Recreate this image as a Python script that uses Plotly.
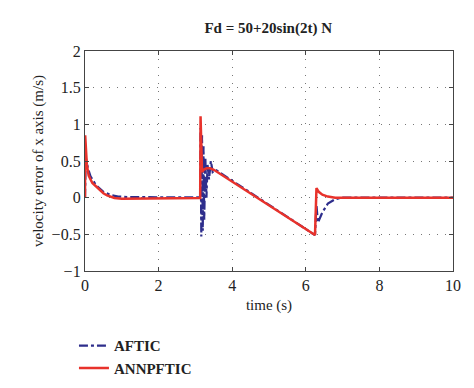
import plotly.graph_objects as go

# ANNPFTIC (red)
t_annp = [0, 0.005, 0.05, 0.1, 0.2, 0.3, 0.4, 0.5, 0.6, 0.7, 0.8, 1.0, 1.5, 2.0, 2.5, 3.13,
          3.14, 3.16, 3.18, 3.22, 3.3, 3.4, 3.5, 6.25, 6.29, 6.35, 6.45, 6.6, 6.8, 10]
v_annp = [0, 0.85, 0.45, 0.30, 0.20, 0.15, 0.10, 0.06, 0.03, 0.01, -0.005, -0.015, -0.015, -0.01, -0.005, -0.005,
          1.11, 0.45, 0.35, 0.38, 0.40, 0.40, 0.38, -0.51, 0.13, 0.08, 0.04, 0.015, 0.0, 0.0]

# AFTIC (blue dash-dot)
t_aftic = [0, 0.02, 0.08, 0.15, 0.3, 0.5, 0.7, 0.9, 1.2, 3.13,
           3.14, 3.16, 3.18, 3.20, 3.22, 3.24, 3.27, 3.30, 3.33, 3.37, 3.42, 3.47, 3.55,
           6.25, 6.29, 6.33, 6.45, 6.6, 6.8, 7.0, 10]
v_aftic = [0, 0.55, 0.40, 0.29, 0.17, 0.08, 0.035, 0.015, 0.008, 0.003,
           0.95, -0.53, 0.85, -0.45, 0.70, -0.30, 0.55, 0.0, 0.45, 0.25, 0.50, 0.35, 0.38,
           -0.51, -0.10, -0.34, -0.20, -0.08, -0.02, 0.0, 0.0]

x_ticks = [0, 2, 4, 6, 8, 10]
y_ticks = [-1, -0.5, 0, 0.5, 1, 1.5, 2]
y_tick_text = ["\u22121", "\u22120.5", "0", "0.5", "1", "1.5", "2"]

serif = "Liberation Serif, DejaVu Serif, serif"

fig = go.Figure()
fig.add_trace(go.Scatter(x=t_aftic, y=v_aftic, mode="lines", name="<b>AFTIC</b>",
                         line=dict(color="#2e2e8c", width=2.2, dash="dashdot")))
fig.add_trace(go.Scatter(x=t_annp, y=v_annp, mode="lines", name="<b>ANNPFTIC</b>",
                         line=dict(color="#e8322b", width=2.5)))

axis_common = dict(showline=True, linecolor="#444", linewidth=1.3, mirror="ticks",
                   ticks="inside", ticklen=4, tickcolor="#444", tickwidth=1.3,
                   showgrid=True, gridcolor="#777", griddash="1px,7px", gridwidth=1.2,
                   zeroline=False, tickfont=dict(family=serif, size=16, color="#222"))

fig.update_xaxes(range=[0, 10], tickvals=x_ticks, ticktext=[str(v) for v in x_ticks], **axis_common,
                 title=dict(text="time (s)", font=dict(family=serif, size=15, color="#222"), standoff=6))
fig.update_yaxes(range=[-1, 2], tickvals=y_ticks, ticktext=y_tick_text, **axis_common,
                 title=dict(text="velocity error of x axis (m/s)", font=dict(family=serif, size=15, color="#222"), standoff=4))

fig.update_layout(
    width=474, height=388,
    font=dict(family=serif, size=15, color="#222"),
    margin=dict(l=77, r=29, t=43, b=114),
    paper_bgcolor="white", plot_bgcolor="white",
    title=dict(text="<b>Fd = 50+20sin(2t) N</b>", x=0.549, xanchor="center", y=0.95, yanchor="middle",
               font=dict(family=serif, size=15, color="#222")),
    showlegend=True,
    legend=dict(x=-0.03, xanchor="left", y=-0.265, yanchor="top", bgcolor="rgba(0,0,0,0)",
                font=dict(family=serif, size=15, color="#222"), tracegroupgap=0, itemwidth=30),
)

fig.write_html("out.html")
